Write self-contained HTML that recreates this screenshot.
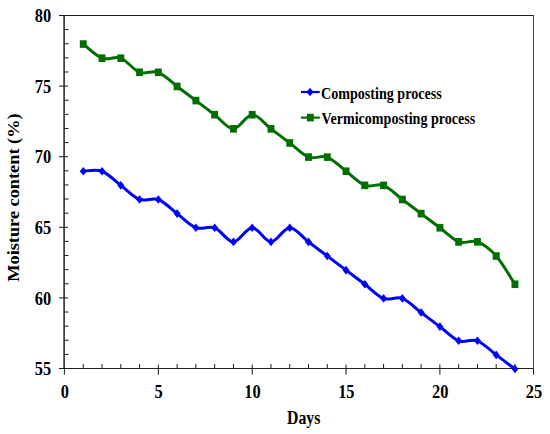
<!DOCTYPE html>
<html><head><meta charset="utf-8"><style>
html,body{margin:0;padding:0;background:#fff;}
svg{display:block;}
text{font-family:"Liberation Serif",serif;font-weight:bold;fill:#000;}
</style></head><body>
<svg width="550" height="434" viewBox="0 0 550 434">
<rect width="550" height="434" fill="#fff"/>
<line x1="63.9" y1="15.5" x2="534.0" y2="15.5" stroke="#1e1e1e" stroke-width="1.05"/>
<line x1="533.5" y1="15.5" x2="533.5" y2="368.5" stroke="#4a4a4a" stroke-width="1.05"/>
<line x1="63.9" y1="368.5" x2="533.5" y2="368.5" stroke="#222" stroke-width="1.1"/>
<line x1="64.1" y1="15.0" x2="64.1" y2="368.5" stroke="#2a2a2a" stroke-width="1.6"/>
<line x1="64.5" y1="354.38" x2="68.5" y2="354.38" stroke="#1a1a1a" stroke-width="1"/>
<line x1="64.5" y1="340.26" x2="68.5" y2="340.26" stroke="#1a1a1a" stroke-width="1"/>
<line x1="64.5" y1="326.14" x2="68.5" y2="326.14" stroke="#1a1a1a" stroke-width="1"/>
<line x1="64.5" y1="312.02" x2="68.5" y2="312.02" stroke="#1a1a1a" stroke-width="1"/>
<line x1="59" y1="297.90" x2="68" y2="297.90" stroke="#1a1a1a" stroke-width="1"/>
<line x1="64.5" y1="283.78" x2="68.5" y2="283.78" stroke="#1a1a1a" stroke-width="1"/>
<line x1="64.5" y1="269.66" x2="68.5" y2="269.66" stroke="#1a1a1a" stroke-width="1"/>
<line x1="64.5" y1="255.54" x2="68.5" y2="255.54" stroke="#1a1a1a" stroke-width="1"/>
<line x1="64.5" y1="241.42" x2="68.5" y2="241.42" stroke="#1a1a1a" stroke-width="1"/>
<line x1="59" y1="227.30" x2="68" y2="227.30" stroke="#1a1a1a" stroke-width="1"/>
<line x1="64.5" y1="213.18" x2="68.5" y2="213.18" stroke="#1a1a1a" stroke-width="1"/>
<line x1="64.5" y1="199.06" x2="68.5" y2="199.06" stroke="#1a1a1a" stroke-width="1"/>
<line x1="64.5" y1="184.94" x2="68.5" y2="184.94" stroke="#1a1a1a" stroke-width="1"/>
<line x1="64.5" y1="170.82" x2="68.5" y2="170.82" stroke="#1a1a1a" stroke-width="1"/>
<line x1="59" y1="156.70" x2="68" y2="156.70" stroke="#1a1a1a" stroke-width="1"/>
<line x1="64.5" y1="142.58" x2="68.5" y2="142.58" stroke="#1a1a1a" stroke-width="1"/>
<line x1="64.5" y1="128.46" x2="68.5" y2="128.46" stroke="#1a1a1a" stroke-width="1"/>
<line x1="64.5" y1="114.34" x2="68.5" y2="114.34" stroke="#1a1a1a" stroke-width="1"/>
<line x1="64.5" y1="100.22" x2="68.5" y2="100.22" stroke="#1a1a1a" stroke-width="1"/>
<line x1="59" y1="86.10" x2="68" y2="86.10" stroke="#1a1a1a" stroke-width="1"/>
<line x1="64.5" y1="71.98" x2="68.5" y2="71.98" stroke="#1a1a1a" stroke-width="1"/>
<line x1="64.5" y1="57.86" x2="68.5" y2="57.86" stroke="#1a1a1a" stroke-width="1"/>
<line x1="64.5" y1="43.74" x2="68.5" y2="43.74" stroke="#1a1a1a" stroke-width="1"/>
<line x1="64.5" y1="29.62" x2="68.5" y2="29.62" stroke="#1a1a1a" stroke-width="1"/>
<line x1="59" y1="15.50" x2="68" y2="15.50" stroke="#1a1a1a" stroke-width="1"/>
<line x1="59" y1="368.5" x2="64.5" y2="368.5" stroke="#1a1a1a" stroke-width="1"/>
<line x1="64.40" y1="368.5" x2="64.40" y2="374.6" stroke="#1a1a1a" stroke-width="1"/>
<line x1="83.27" y1="368.5" x2="83.27" y2="364" stroke="#1a1a1a" stroke-width="1"/>
<line x1="102.04" y1="368.5" x2="102.04" y2="364" stroke="#1a1a1a" stroke-width="1"/>
<line x1="120.81" y1="368.5" x2="120.81" y2="364" stroke="#1a1a1a" stroke-width="1"/>
<line x1="139.58" y1="368.5" x2="139.58" y2="364" stroke="#1a1a1a" stroke-width="1"/>
<line x1="158.35" y1="364.5" x2="158.35" y2="374.6" stroke="#1a1a1a" stroke-width="1"/>
<line x1="177.12" y1="368.5" x2="177.12" y2="364" stroke="#1a1a1a" stroke-width="1"/>
<line x1="195.89" y1="368.5" x2="195.89" y2="364" stroke="#1a1a1a" stroke-width="1"/>
<line x1="214.66" y1="368.5" x2="214.66" y2="364" stroke="#1a1a1a" stroke-width="1"/>
<line x1="233.43" y1="368.5" x2="233.43" y2="364" stroke="#1a1a1a" stroke-width="1"/>
<line x1="252.20" y1="364.5" x2="252.20" y2="374.6" stroke="#1a1a1a" stroke-width="1"/>
<line x1="270.97" y1="368.5" x2="270.97" y2="364" stroke="#1a1a1a" stroke-width="1"/>
<line x1="289.74" y1="368.5" x2="289.74" y2="364" stroke="#1a1a1a" stroke-width="1"/>
<line x1="308.51" y1="368.5" x2="308.51" y2="364" stroke="#1a1a1a" stroke-width="1"/>
<line x1="327.28" y1="368.5" x2="327.28" y2="364" stroke="#1a1a1a" stroke-width="1"/>
<line x1="346.05" y1="364.5" x2="346.05" y2="374.6" stroke="#1a1a1a" stroke-width="1"/>
<line x1="364.82" y1="368.5" x2="364.82" y2="364" stroke="#1a1a1a" stroke-width="1"/>
<line x1="383.59" y1="368.5" x2="383.59" y2="364" stroke="#1a1a1a" stroke-width="1"/>
<line x1="402.36" y1="368.5" x2="402.36" y2="364" stroke="#1a1a1a" stroke-width="1"/>
<line x1="421.13" y1="368.5" x2="421.13" y2="364" stroke="#1a1a1a" stroke-width="1"/>
<line x1="439.90" y1="364.5" x2="439.90" y2="374.6" stroke="#1a1a1a" stroke-width="1"/>
<line x1="458.67" y1="368.5" x2="458.67" y2="364" stroke="#1a1a1a" stroke-width="1"/>
<line x1="477.44" y1="368.5" x2="477.44" y2="364" stroke="#1a1a1a" stroke-width="1"/>
<line x1="496.21" y1="368.5" x2="496.21" y2="364" stroke="#1a1a1a" stroke-width="1"/>
<line x1="514.98" y1="368.5" x2="514.98" y2="364" stroke="#1a1a1a" stroke-width="1"/>
<line x1="533.50" y1="368.5" x2="533.50" y2="374.6" stroke="#1a1a1a" stroke-width="1"/>
<text transform="translate(51.20,375.35) scale(1,1.1)" text-anchor="end" font-size="16.4">55</text>
<text transform="translate(51.20,304.70) scale(1,1.1)" text-anchor="end" font-size="16.4">60</text>
<text transform="translate(51.20,234.05) scale(1,1.1)" text-anchor="end" font-size="16.4">65</text>
<text transform="translate(51.20,163.40) scale(1,1.1)" text-anchor="end" font-size="16.4">70</text>
<text transform="translate(51.20,92.75) scale(1,1.1)" text-anchor="end" font-size="16.4">75</text>
<text transform="translate(51.20,22.10) scale(1,1.1)" text-anchor="end" font-size="16.4">80</text>
<text transform="translate(64.80,397.80) scale(1,1.1)" text-anchor="middle" font-size="16.4">0</text>
<text transform="translate(158.65,397.80) scale(1,1.1)" text-anchor="middle" font-size="16.4">5</text>
<text transform="translate(252.50,397.80) scale(1,1.1)" text-anchor="middle" font-size="16.4">10</text>
<text transform="translate(346.35,397.80) scale(1,1.1)" text-anchor="middle" font-size="16.4">15</text>
<text transform="translate(440.20,397.80) scale(1,1.1)" text-anchor="middle" font-size="16.4">20</text>
<text transform="translate(534.05,397.80) scale(1,1.1)" text-anchor="middle" font-size="16.4">25</text>
<text transform="translate(287.02,423.50) scale(1,1.13)" text-anchor="start" font-size="15.8">Days</text>
<text transform="translate(19.00,281.74) scale(1,1.13) rotate(-90)" text-anchor="start" font-size="16.2">Moisture content (%)</text>
<path d="M83.27,171.23 C86.40,171.23 95.78,168.88 102.04,171.23 C108.30,173.59 114.55,180.65 120.81,185.36 C127.07,190.07 133.32,197.14 139.58,199.49 C145.84,201.84 152.09,197.13 158.35,199.49 C164.61,201.85 170.86,208.91 177.12,213.62 C183.38,218.33 189.63,225.40 195.89,227.75 C202.15,230.11 208.40,225.40 214.66,227.75 C220.92,230.11 227.17,241.88 233.43,241.88 C239.69,241.88 245.94,227.75 252.20,227.75 C258.46,227.75 264.71,241.88 270.97,241.88 C277.23,241.88 283.48,227.75 289.74,227.75 C296.00,227.75 302.25,237.17 308.51,241.88 C314.77,246.59 321.02,251.30 327.28,256.01 C333.54,260.72 339.79,265.43 346.05,270.14 C352.31,274.85 358.56,279.56 364.82,284.27 C371.08,288.98 377.33,296.05 383.59,298.40 C389.85,300.76 396.10,296.05 402.36,298.40 C408.62,300.76 414.87,307.82 421.13,312.53 C427.39,317.24 433.64,321.95 439.90,326.66 C446.16,331.37 452.41,338.44 458.67,340.79 C464.93,343.15 471.18,338.44 477.44,340.79 C483.70,343.15 489.95,350.21 496.21,354.92 C502.47,359.63 511.85,366.69 514.98,369.05" fill="none" stroke="#0000ff" stroke-width="3.0" stroke-linejoin="round"/>
<path d="M83.27,166.93 L86.77,171.23 L83.27,175.53 L79.77,171.23Z" fill="#0000ff"/>
<path d="M102.04,166.93 L105.54,171.23 L102.04,175.53 L98.54,171.23Z" fill="#0000ff"/>
<path d="M120.81,181.06 L124.31,185.36 L120.81,189.66 L117.31,185.36Z" fill="#0000ff"/>
<path d="M139.58,195.19 L143.08,199.49 L139.58,203.79 L136.08,199.49Z" fill="#0000ff"/>
<path d="M158.35,195.19 L161.85,199.49 L158.35,203.79 L154.85,199.49Z" fill="#0000ff"/>
<path d="M177.12,209.32 L180.62,213.62 L177.12,217.92 L173.62,213.62Z" fill="#0000ff"/>
<path d="M195.89,223.45 L199.39,227.75 L195.89,232.05 L192.39,227.75Z" fill="#0000ff"/>
<path d="M214.66,223.45 L218.16,227.75 L214.66,232.05 L211.16,227.75Z" fill="#0000ff"/>
<path d="M233.43,237.58 L236.93,241.88 L233.43,246.18 L229.93,241.88Z" fill="#0000ff"/>
<path d="M252.20,223.45 L255.70,227.75 L252.20,232.05 L248.70,227.75Z" fill="#0000ff"/>
<path d="M270.97,237.58 L274.47,241.88 L270.97,246.18 L267.47,241.88Z" fill="#0000ff"/>
<path d="M289.74,223.45 L293.24,227.75 L289.74,232.05 L286.24,227.75Z" fill="#0000ff"/>
<path d="M308.51,237.58 L312.01,241.88 L308.51,246.18 L305.01,241.88Z" fill="#0000ff"/>
<path d="M327.28,251.71 L330.78,256.01 L327.28,260.31 L323.78,256.01Z" fill="#0000ff"/>
<path d="M346.05,265.84 L349.55,270.14 L346.05,274.44 L342.55,270.14Z" fill="#0000ff"/>
<path d="M364.82,279.97 L368.32,284.27 L364.82,288.57 L361.32,284.27Z" fill="#0000ff"/>
<path d="M383.59,294.10 L387.09,298.40 L383.59,302.70 L380.09,298.40Z" fill="#0000ff"/>
<path d="M402.36,294.10 L405.86,298.40 L402.36,302.70 L398.86,298.40Z" fill="#0000ff"/>
<path d="M421.13,308.23 L424.63,312.53 L421.13,316.83 L417.63,312.53Z" fill="#0000ff"/>
<path d="M439.90,322.36 L443.40,326.66 L439.90,330.96 L436.40,326.66Z" fill="#0000ff"/>
<path d="M458.67,336.49 L462.17,340.79 L458.67,345.09 L455.17,340.79Z" fill="#0000ff"/>
<path d="M477.44,336.49 L480.94,340.79 L477.44,345.09 L473.94,340.79Z" fill="#0000ff"/>
<path d="M496.21,350.62 L499.71,354.92 L496.21,359.22 L492.71,354.92Z" fill="#0000ff"/>
<path d="M514.98,364.75 L518.48,369.05 L514.98,373.35 L511.48,369.05Z" fill="#0000ff"/>
<path d="M83.27,44.06 C86.40,46.41 95.78,55.84 102.04,58.19 C108.30,60.54 114.55,55.83 120.81,58.19 C127.07,60.55 133.32,69.97 139.58,72.32 C145.84,74.68 152.09,69.97 158.35,72.32 C164.61,74.68 170.86,81.74 177.12,86.45 C183.38,91.16 189.63,95.87 195.89,100.58 C202.15,105.29 208.40,110.00 214.66,114.71 C220.92,119.42 227.17,128.84 233.43,128.84 C239.69,128.84 245.94,114.71 252.20,114.71 C258.46,114.71 264.71,124.13 270.97,128.84 C277.23,133.55 283.48,138.26 289.74,142.97 C296.00,147.68 302.25,154.75 308.51,157.10 C314.77,159.46 321.02,154.75 327.28,157.10 C333.54,159.46 339.79,166.52 346.05,171.23 C352.31,175.94 358.56,183.01 364.82,185.36 C371.08,187.72 377.33,183.01 383.59,185.36 C389.85,187.72 396.10,194.78 402.36,199.49 C408.62,204.20 414.87,208.91 421.13,213.62 C427.39,218.33 433.64,223.04 439.90,227.75 C446.16,232.46 452.41,239.53 458.67,241.88 C464.93,244.24 471.18,239.53 477.44,241.88 C483.70,244.24 489.95,248.94 496.21,256.01 C502.47,263.07 511.85,279.56 514.98,284.27" fill="none" stroke="#006e00" stroke-width="3.0" stroke-linejoin="round"/>
<rect x="79.82" y="40.26" width="6.9" height="7.6" fill="#006e00"/>
<rect x="98.59" y="54.39" width="6.9" height="7.6" fill="#006e00"/>
<rect x="117.36" y="54.39" width="6.9" height="7.6" fill="#006e00"/>
<rect x="136.13" y="68.52" width="6.9" height="7.6" fill="#006e00"/>
<rect x="154.90" y="68.52" width="6.9" height="7.6" fill="#006e00"/>
<rect x="173.67" y="82.65" width="6.9" height="7.6" fill="#006e00"/>
<rect x="192.44" y="96.78" width="6.9" height="7.6" fill="#006e00"/>
<rect x="211.21" y="110.91" width="6.9" height="7.6" fill="#006e00"/>
<rect x="229.98" y="125.04" width="6.9" height="7.6" fill="#006e00"/>
<rect x="248.75" y="110.91" width="6.9" height="7.6" fill="#006e00"/>
<rect x="267.52" y="125.04" width="6.9" height="7.6" fill="#006e00"/>
<rect x="286.29" y="139.17" width="6.9" height="7.6" fill="#006e00"/>
<rect x="305.06" y="153.30" width="6.9" height="7.6" fill="#006e00"/>
<rect x="323.83" y="153.30" width="6.9" height="7.6" fill="#006e00"/>
<rect x="342.60" y="167.43" width="6.9" height="7.6" fill="#006e00"/>
<rect x="361.37" y="181.56" width="6.9" height="7.6" fill="#006e00"/>
<rect x="380.14" y="181.56" width="6.9" height="7.6" fill="#006e00"/>
<rect x="398.91" y="195.69" width="6.9" height="7.6" fill="#006e00"/>
<rect x="417.68" y="209.82" width="6.9" height="7.6" fill="#006e00"/>
<rect x="436.45" y="223.95" width="6.9" height="7.6" fill="#006e00"/>
<rect x="455.22" y="238.08" width="6.9" height="7.6" fill="#006e00"/>
<rect x="473.99" y="238.08" width="6.9" height="7.6" fill="#006e00"/>
<rect x="492.76" y="252.21" width="6.9" height="7.6" fill="#006e00"/>
<rect x="511.53" y="280.47" width="6.9" height="7.6" fill="#006e00"/>
<line x1="301" y1="92" x2="319.8" y2="92" stroke="#0000ff" stroke-width="2.2"/>
<path d="M310.00,87.70 L313.50,92.00 L310.00,96.30 L306.50,92.00Z" fill="#0000ff"/>
<text transform="translate(321.01,98.50) scale(1,1.13)" text-anchor="start" font-size="14.1">Composting process</text>
<line x1="301" y1="117.6" x2="319.8" y2="117.6" stroke="#006e00" stroke-width="2.2"/>
<rect x="306.90" y="113.80" width="6.9" height="7.6" fill="#006e00"/>
<text transform="translate(321.54,124.10) scale(1,1.13)" text-anchor="start" font-size="14.1">Vermicomposting process</text>
</svg>
</body></html>
